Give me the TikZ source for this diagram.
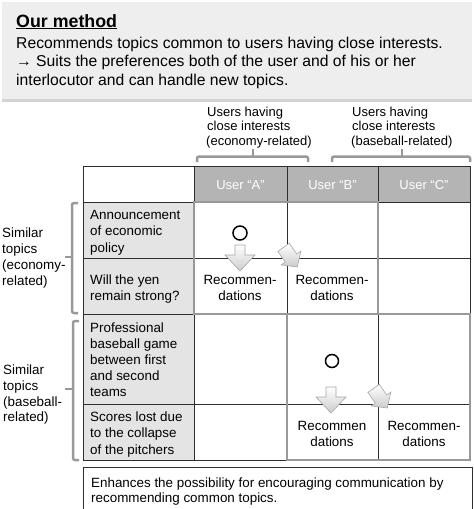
\documentclass[tikz,border=0pt]{standalone}
\usepackage{fontspec}
\setmainfont{Liberation Sans}
\usetikzlibrary{shadows}
\definecolor{hdr}{HTML}{B4B4B4}
\definecolor{topic}{HTML}{E4E4E4}
\definecolor{frame}{HTML}{999999}
\definecolor{gridc}{HTML}{2E2E2E}
\definecolor{topbg}{HTML}{EEEEEE}
\begin{document}
\begin{tikzpicture}[x=1pt,y=-1pt,
  txt/.style={font=\fontsize{13.4}{16}\selectfont, inner sep=0pt, anchor=base west},
  ctr/.style={font=\fontsize{13.4}{16}\selectfont, inner sep=0pt, anchor=base},
  hlab/.style={font=\fontsize{13}{15}\selectfont, inner sep=0pt, anchor=base west},
  toptxt/.style={font=\fontsize{15.7}{18.5}\selectfont, inner sep=0pt, anchor=base west},
  usr/.style={font=\fontsize{13}{15}\selectfont, inner sep=0pt, anchor=base, text=white},
  brace/.style={draw=frame, line width=2.5pt, rounded corners=2pt},
  hilite/.style={draw=frame, line width=2.8pt},
  gridline/.style={draw=gridc, line width=1pt},
  arrowfill/.style={top color=white, bottom color=gray!40, draw=gray!70, line width=0.6pt},
  blockarrow/.pic={\shade[arrowfill]
     (-5,-10) -- (5,-10) -- (5,0) -- (15,0) -- (0,16) -- (-15,0) -- (-5,0) -- cycle;},
  fatarrow/.pic={\shade[arrowfill]
     (-7,-13) -- (7,-13) -- (7,0) -- (12,0) -- (0,11) -- (-12,0) -- (-7,0) -- cycle;}
]
\useasboundingbox (0,0) rectangle (474,509);

% top box
\fill[topbg, drop shadow={shadow xshift=0pt, shadow yshift=-2.5pt, opacity=0.35}] (2,2) rectangle (472,99);
\node[inner sep=0pt, anchor=base west, font=\fontsize{17.8}{20}\selectfont\bfseries] (title) at (16,27) {\underline{Our method}};
\node[toptxt] (t1) at (16,48) {Recommends topics common to users having close interests.};
\node[toptxt] (t2) at (16,66.5) {→ Suits the preferences both of the user and of his or her};
\node[toptxt] (t3) at (16,85) {interlocutor and can handle new topics.};

% header labels
\node[hlab] (e1) at (207,116) {Users having};
\node[hlab] (e2) at (207,130.5) {close interests};
\node[hlab] (e3) at (206,145) {(economy-related)};
\node[hlab] (b1) at (352,116) {Users having};
\node[hlab] (b2) at (352,130.5) {close interests};
\node[hlab] (b3) at (351,145) {(baseball-related)};

% top braces
\draw[brace] (197,162) -- (197,156.5) -- (308,156.5) -- (308,162);
\draw[brace] (253,156.5) -- (253,149);
\draw[brace] (332,162) -- (332,156.5) -- (470,156.5) -- (470,162);
\draw[brace] (402,156.5) -- (402,149);

% table fills
\fill[topic] (83,202) rectangle (194,460);
\fill[hdr] (194,166) rectangle (470,202);

% grid
\foreach \yy in {166,202,258,314,404,460} \draw[gridline] (83,\yy) -- (470,\yy);
\foreach \xx in {83,194,287,378,470} \draw[gridline] (\xx,166) -- (\xx,460);

% highlight frames
\draw[hilite] (194,202) rectangle (378,314);
\draw[hilite] (287,314) rectangle (470,460);

% header users
\node[usr] (uA) at (240.5,189) {User “A”};
\node[usr] (uB) at (332.5,189) {User “B”};
\node[usr] (uC) at (424,189) {User “C”};

% topics
\node[txt] (p1) at (90,219) {Announcement};
\node[txt] (p2) at (90,235.5) {of economic};
\node[txt] (p3) at (90,252) {policy};
\node[txt] (q1) at (90,284) {Will the yen};
\node[txt] (q2) at (90,300) {remain strong?};
\node[txt] (r1) at (90,332) {Professional};
\node[txt] (r2) at (90,348) {baseball game};
\node[txt] (r3) at (90,364.5) {between first};
\node[txt] (r4) at (90,380.5) {and second};
\node[txt] (r5) at (90,396.7) {teams};
\node[txt] (s1) at (90,421.7) {Scores lost due};
\node[txt] (s2) at (90,437.7) {to the collapse};
\node[txt] (s3) at (90,454) {of the pitchers};

% left labels and braces
\node[txt] (l1) at (2,237) {Similar};
\node[txt] (l2) at (2,253) {topics};
\node[txt] (l3) at (2,269) {(economy-};
\node[txt] (l4) at (2,285) {related)};
\node[txt] (m1) at (3,374) {Similar};
\node[txt] (m2) at (3,390) {topics};
\node[txt] (m3) at (3,406) {(baseball-};
\node[txt] (m4) at (3,421.5) {related)};
\draw[brace] (78,203) -- (72,203) -- (72,313) -- (78,313);
\draw[brace] (72,257) -- (65,257);
\draw[brace] (79,321) -- (73,321) -- (73,460) -- (79,460);
\draw[brace] (73,389) -- (65,389);

% circles
\draw[line width=1.5pt] (240,233) circle (7);
\draw[line width=1.5pt] (332,361) circle (6.5);

% arrows
\pic at (240,255) {blockarrow};
\pic[rotate=35] at (291,258) {fatarrow};
\pic at (331,397) {blockarrow};
\pic[rotate=35] at (381,399) {fatarrow};

% recommendations
\node[ctr] (ra1) at (240,284) {Recommen-};
\node[ctr] (ra2) at (240,300) {dations};
\node[ctr] (rb1) at (332,284) {Recommen-};
\node[ctr] (rb2) at (332,300) {dations};
\node[ctr] (rc1) at (332,430) {Recommen};
\node[ctr] (rc2) at (332,446) {dations};
\node[ctr] (rd1) at (424,430) {Recommen-};
\node[ctr] (rd2) at (424,446) {dations};

% bottom box
\draw[draw=gridc, line width=0.9pt, fill=white] (83,467) rectangle (472,515);
\node[txt] (f1) at (91,487) {Enhances the possibility for encouraging communication by};
\node[txt] (f2) at (91,502) {recommending common topics.};
\end{tikzpicture}
\end{document}
